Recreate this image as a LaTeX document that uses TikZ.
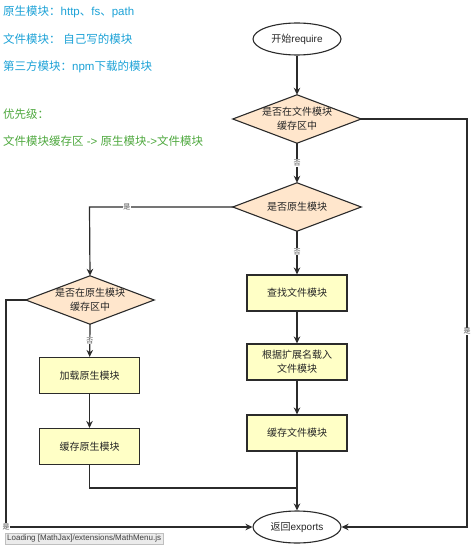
\documentclass[tikz,border=0pt]{standalone}
\usepackage{fontspec}
\setmainfont{Liberation Sans}
\newfontfamily\cjk{Noto Sans CJK SC}
\usetikzlibrary{shapes.geometric,arrows.meta,backgrounds}
\newcommand\zh[1]{{\cjk #1}}
\definecolor{cyantxt}{HTML}{1BA1D6}
\definecolor{greentxt}{HTML}{4EA83E}
\definecolor{decfill}{HTML}{FFE6CC}
\definecolor{procfill}{HTML}{FFFFC6}
\definecolor{strokec}{HTML}{2B2B2B}
\tikzset{
  base/.style={font=\fontsize{10}{14}\selectfont, align=center, text=black!85},
  term/.style={base, ellipse, draw=strokec, line width=1.1pt, fill=white, minimum width=88, minimum height=32, inner sep=0},
  dec/.style={base, rectangle, minimum width=128, minimum height=48, inner sep=0},
  decshape/.style={draw=strokec, line width=1.1pt, fill=decfill},
  proc/.style={base, rectangle, draw=strokec, line width=1.1pt, fill=procfill, minimum width=100, minimum height=36, inner sep=0},
  conn/.style={draw=strokec, line width=1.2pt},
  arr/.style={conn, -{Stealth[length=7pt,width=6.5pt]}},
  lbl/.style={font=\fontsize{7}{8}\selectfont, fill=white, inner sep=0.5pt, text=black!70},
  note/.style={anchor=west, font=\fontsize{11.5}{13}\selectfont, inner sep=0},
}
\begin{document}
\begin{tikzpicture}[x=1pt,y=-1pt]
\useasboundingbox (0,0) rectangle (474,545);
% legend text
\node[note, text=cyantxt] (t1) at (3,12) {\zh{原生模块：}http\zh{、}fs\zh{、}path};
\node[note, text=cyantxt] (t2) at (3,39) {\zh{文件模块：\ 自己写的模块}};
\node[note, text=cyantxt] (t3) at (3,66.5) {\zh{第三方模块：}npm\zh{下载的模块}};
\node[note, text=greentxt] (t4) at (3,114) {\zh{优先级：}};
\node[note, text=greentxt] (t5) at (3,141) {\zh{文件模块缓存区} -> \zh{原生模块}->\zh{文件模块}};
% nodes
\node[term] (start) at (297,39) {\zh{开始}require};
\node[dec] (d1) at (297,119) {\zh{是否在文件模块}\\\zh{缓存区中}};
\node[dec] (d2) at (297,207) {\zh{是否原生模块}};
\node[proc] (p1) at (297,293) {\zh{查找文件模块}};
\node[proc] (p2) at (297,362) {\zh{根据扩展名载入}\\\zh{文件模块}};
\node[proc] (p3) at (297,433) {\zh{缓存文件模块}};
\node[term] (end) at (297,527) {\zh{返回}exports};
\node[dec] (d3) at (90,300) {\zh{是否在原生模块}\\\zh{缓存区中}};
\node[proc] (n1) at (89.5,375.5) {\zh{加载原生模块}};
\node[proc] (n2) at (89.5,446.5) {\zh{缓存原生模块}};
\begin{pgfonlayer}{background}
\foreach \d in {d1,d2,d3}
  \draw[decshape] (\d.north) -- (\d.east) -- (\d.south) -- (\d.west) -- cycle;
\end{pgfonlayer}
% helper coordinates
\coordinate (r1) at (467,119);
\coordinate (l1) at (89.5,207);
\coordinate (l2) at (6,300);
\coordinate (j) at (297,488);
% connectors
\draw[arr] (start) -- (d1.north);
\draw[arr] (d1.south) -- node[lbl]{\zh{否}} (d2.north);
\draw[arr] (d2.south) -- node[lbl, pos=0.48]{\zh{否}} (p1);
\draw[arr] (p1) -- (p2);
\draw[arr] (p2) -- (p3);
\draw[arr] (p3) -- (end);
\draw[arr] (d1.east) -- (r1) -- node[lbl, pos=0.52]{\zh{是}} (r1 |- end) -- (end.east);
\draw[arr] (d2.west) -- node[lbl, pos=0.74]{\zh{是}} (l1) -- (d3.north);
\draw[arr] (d3.south) -- node[lbl]{\zh{否}} (n1);
\draw[arr] (n1) -- (n2);
\draw[conn] (n2.south) |- (j);
\draw[arr] (d3.west) -- (l2) -- (l2 |- end) node[lbl, pos=1]{\zh{是}} -- (end.west);
% status overlay
\node[draw=black!25, fill=black!8, text=black!75, anchor=south west, inner xsep=2pt, inner ysep=1.5pt, font=\fontsize{8}{9}\selectfont] (load) at (5,544) {Loading [MathJax]/extensions/MathMenu.js};
\end{tikzpicture}
\end{document}
